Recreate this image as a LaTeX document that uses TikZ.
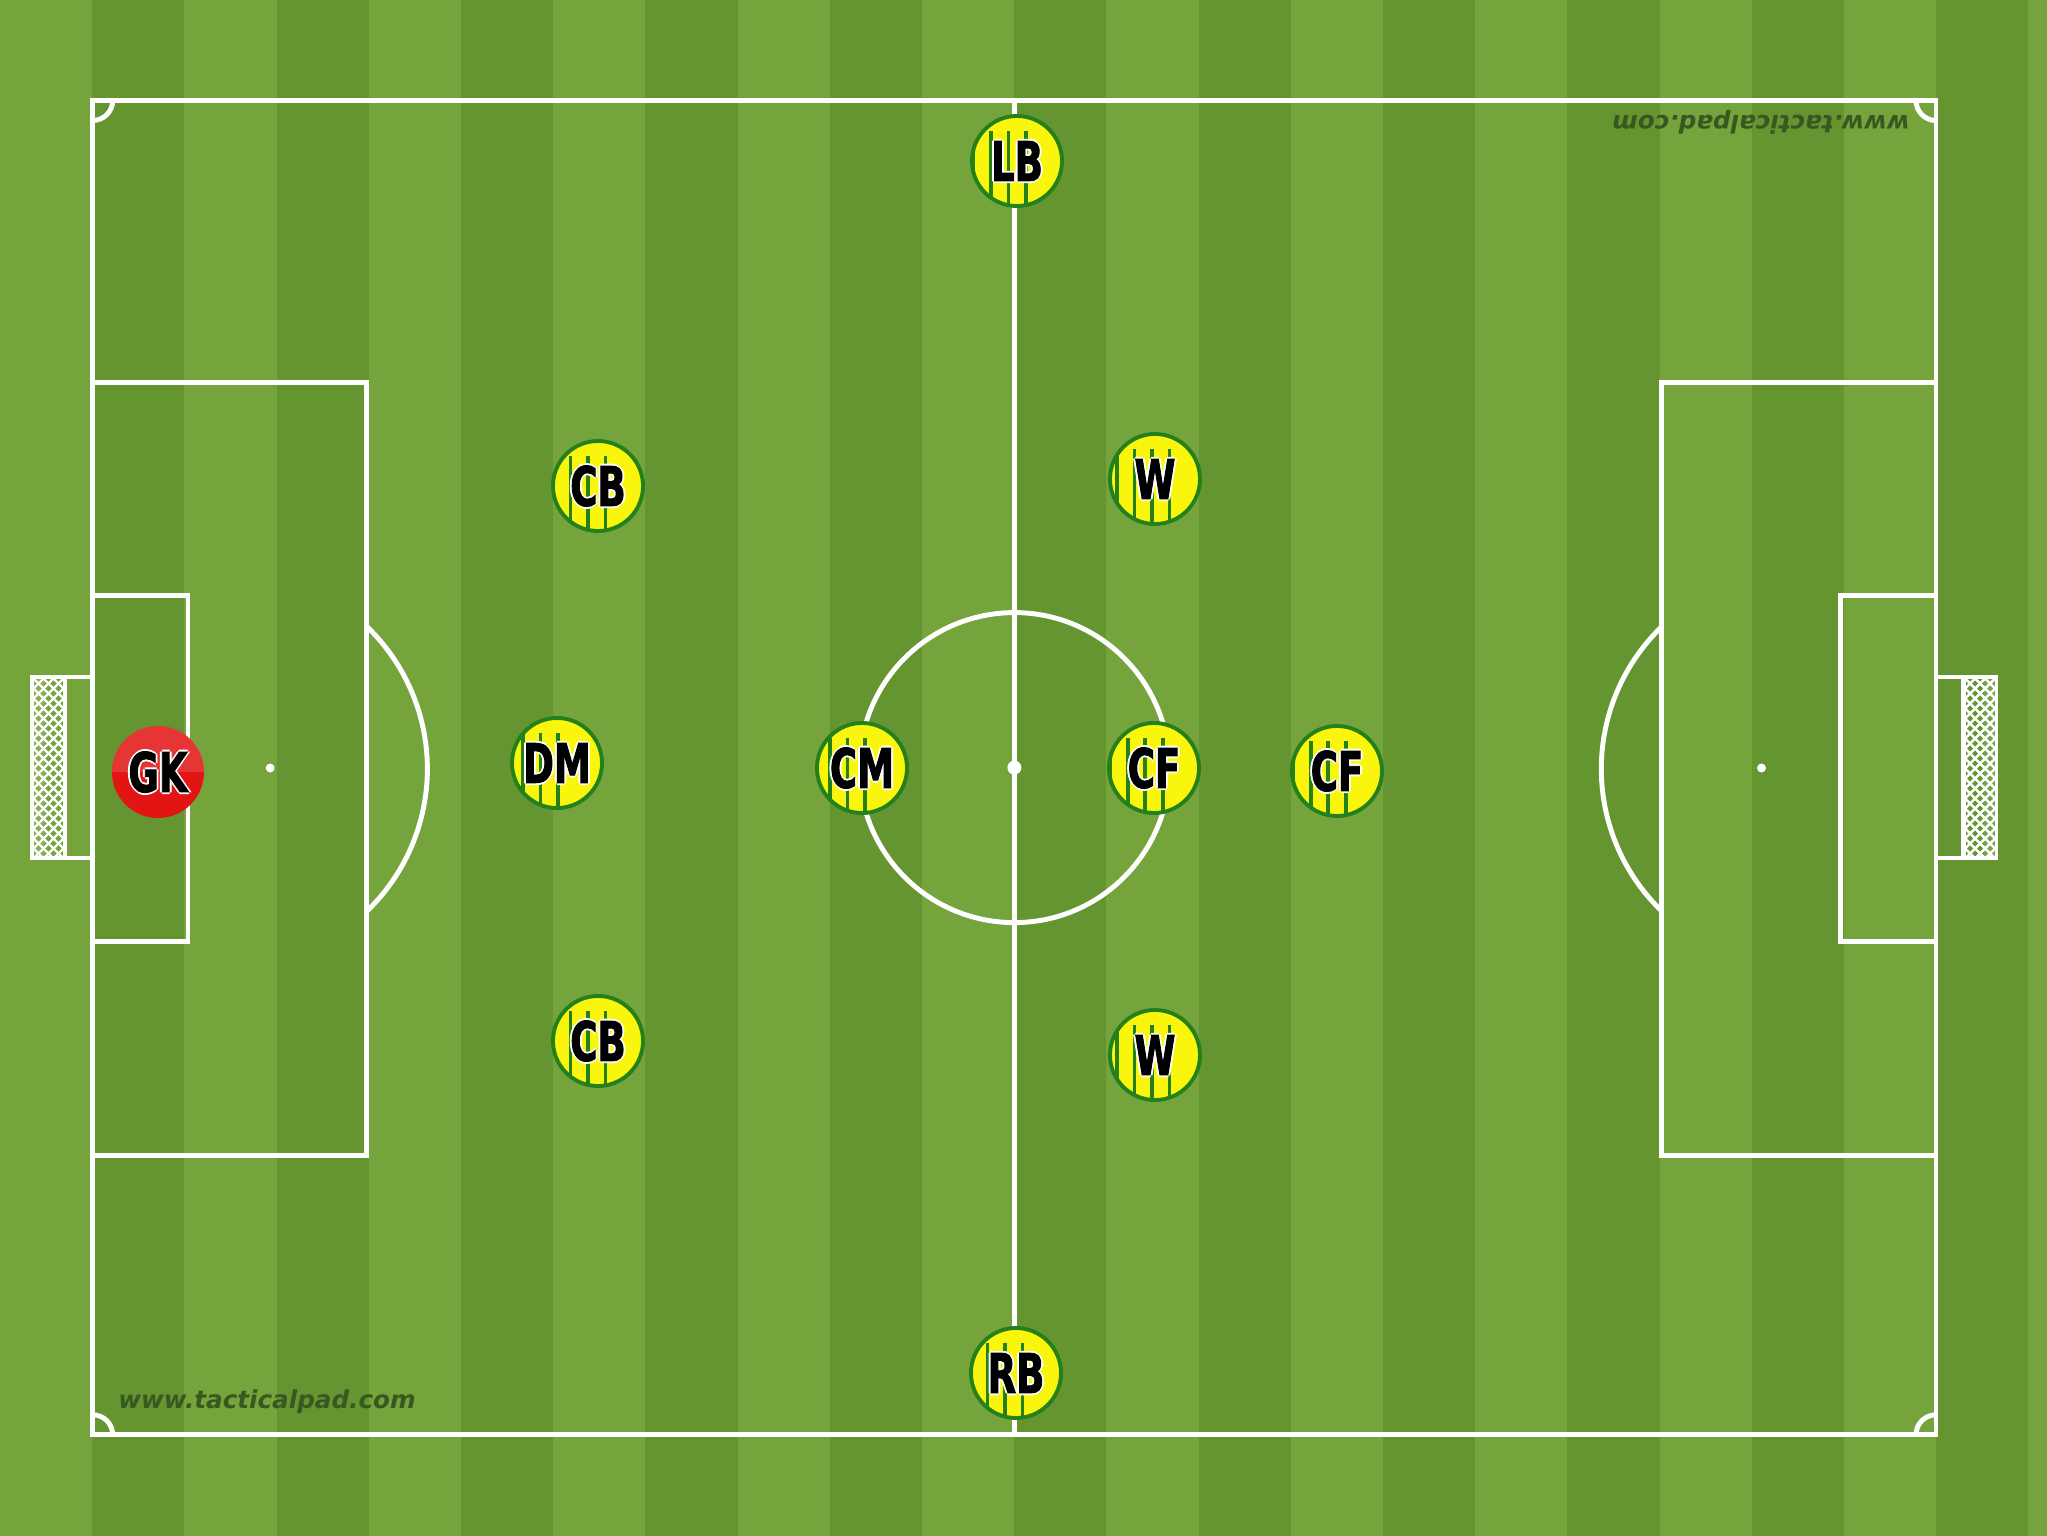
\documentclass[tikz,border=0pt]{standalone}
\usepackage{fontspec}
\usepackage{tikz}
\usepackage{color}
\newfontfamily\tokenfont[FakeStretch=0.68, BoldFeatures={FakeBold=1.6}]{DejaVu Sans}
\newfontfamily\wmfont{DejaVu Sans}
\definecolor{grasslight}{RGB}{118,164,60}
\definecolor{grassdark}{RGB}{101,149,49}
\definecolor{tokyellow}{RGB}{250,245,12}
\definecolor{tokgreen}{RGB}{36,128,26}
\definecolor{gkred}{RGB}{226,20,20}
\definecolor{wmgreen}{RGB}{55,88,32}
\newcommand{\outlined}[1]{\leavevmode\rlap{\color{white}\kern-0.55pt#1}\rlap{\color{white}\kern0.55pt#1}\rlap{\color{white}\raisebox{0.55pt}{#1}}\rlap{\color{white}\raisebox{-0.55pt}{#1}}#1}
\tikzset{
  pitchline/.style={white, line width=1.4pt},
  netline/.style={white, line width=0.7pt},
  player/.style={circle, minimum size=0.9cm, inner sep=0pt, fill=tokyellow, draw=tokgreen, line width=1.1pt,
    font=\tokenfont\bfseries\fontsize{15.5}{16}\selectfont, text=black,
    path picture={\foreach \dx in {-35,-17.5,0,17.5,35}
      \draw[tokgreen, line width=1pt, shift={(path picture bounding box.center)}] (\dx,-50) -- (\dx,50);}},
  keeper/.style={circle, minimum size=0.92cm, inner sep=0pt, fill=gkred,
    font=\tokenfont\bfseries\fontsize{15.5}{16}\selectfont, text=black,
    path picture={\fill[white, opacity=0.14] (path picture bounding box.north west) rectangle (path picture bounding box.east);}},
  watermark/.style={text=wmgreen, inner sep=0pt, font=\wmfont\bfseries\itshape\fontsize{7}{8}\selectfont}
}
\begin{document}
\begin{tikzpicture}[x=0.01cm, y=-0.01cm]
\useasboundingbox (0,0) rectangle (2047,1536);
% grass
\fill[grasslight] (0,0) rectangle (2047,1536);
\foreach \k in {1,3,...,21}
  \fill[grassdark] ({\k*92.2},0) rectangle ({(\k+1)*92.2},1536);
% pitch markings
\draw[pitchline] (92.7,100.5) rectangle (1936,1434.8);
\draw[pitchline] (1014.4,100.5) -- (1014.4,1434.8);
\draw[pitchline] (1014.4,767.6) circle (155);
\fill[white] (1014.4,767.6) circle (7);
\draw[pitchline] (92.7,382.5) rectangle (366.8,1155.4);
\draw[pitchline] (92.7,595.3) rectangle (188,941.3);
\draw[pitchline] (1936,382.5) rectangle (1661.9,1155.4);
\draw[pitchline] (1936,595.3) rectangle (1840.7,941.3);
\fill[white] (270.2,768) circle (4.5);
\fill[white] (1761.5,768) circle (4.5);
\draw[pitchline] (366.8,626.5) arc[start angle=-46.1, end angle=46.1, radius=197.6];
\draw[pitchline] (1661.9,626.5) arc[start angle=226.1, end angle=133.9, radius=197.6];
% corners
\draw[pitchline] (112.7,100.5) arc[start angle=0, end angle=90, radius=20];
\draw[pitchline] (1916,100.5) arc[start angle=180, end angle=90, radius=20];
\draw[pitchline] (112.7,1434.8) arc[start angle=0, end angle=-90, radius=20];
\draw[pitchline] (1916,1434.8) arc[start angle=180, end angle=270, radius=20];
% goals
\begin{scope}
  \clip (32,677) rectangle (65,858);
  \fill[white, opacity=0.12] (32,677) rectangle (45,858);
  \foreach \t in {-40,-30,...,190} {
    \draw[netline] (32,677+\t) -- ++(33,33);
    \draw[netline] (65,677+\t) -- ++(-33,33);
  }
\end{scope}
\draw[netline, line width=1pt] (32,677) rectangle (65,858);
\draw[pitchline] (92.7,677) -- (65,677) -- (65,858) -- (92.7,858);
\begin{scope}
  \clip (1963.7,677) rectangle (1996.7,858);
  \fill[white, opacity=0.12] (1983.7,677) rectangle (1996.7,858);
  \foreach \t in {-40,-30,...,190} {
    \draw[netline] (1963.7,677+\t) -- ++(33,33);
    \draw[netline] (1996.7,677+\t) -- ++(-33,33);
  }
\end{scope}
\draw[netline, line width=1pt] (1963.7,677) rectangle (1996.7,858);
\draw[pitchline] (1936,677) -- (1963.7,677) -- (1963.7,858) -- (1936,858);
% watermarks
\node[watermark] (wmbot) at (267,1402) {www.tacticalpad.com};
\node[watermark, rotate=180] (wmtop) at (1761,122) {www.tacticalpad.com};
% players
\node[keeper] (gk) at (158,772) {\outlined{GK}};
\node[player] (cbtop) at (598,486) {\outlined{CB}};
\node[player] (dm) at (557,763) {\outlined{DM}};
\node[player] (cbbot) at (598,1041) {\outlined{CB}};
\node[player] (cm) at (862,768) {\outlined{CM}};
\node[player] (lb) at (1017,161) {\outlined{LB}};
\node[player] (rb) at (1016,1373) {\outlined{RB}};
\node[player] (wtop) at (1155,479) {\outlined{W}};
\node[player] (cfa) at (1154,768) {\outlined{CF}};
\node[player] (wbot) at (1155,1055) {\outlined{W}};
\node[player] (cfb) at (1337,771) {\outlined{CF}};
\end{tikzpicture}
\end{document}
